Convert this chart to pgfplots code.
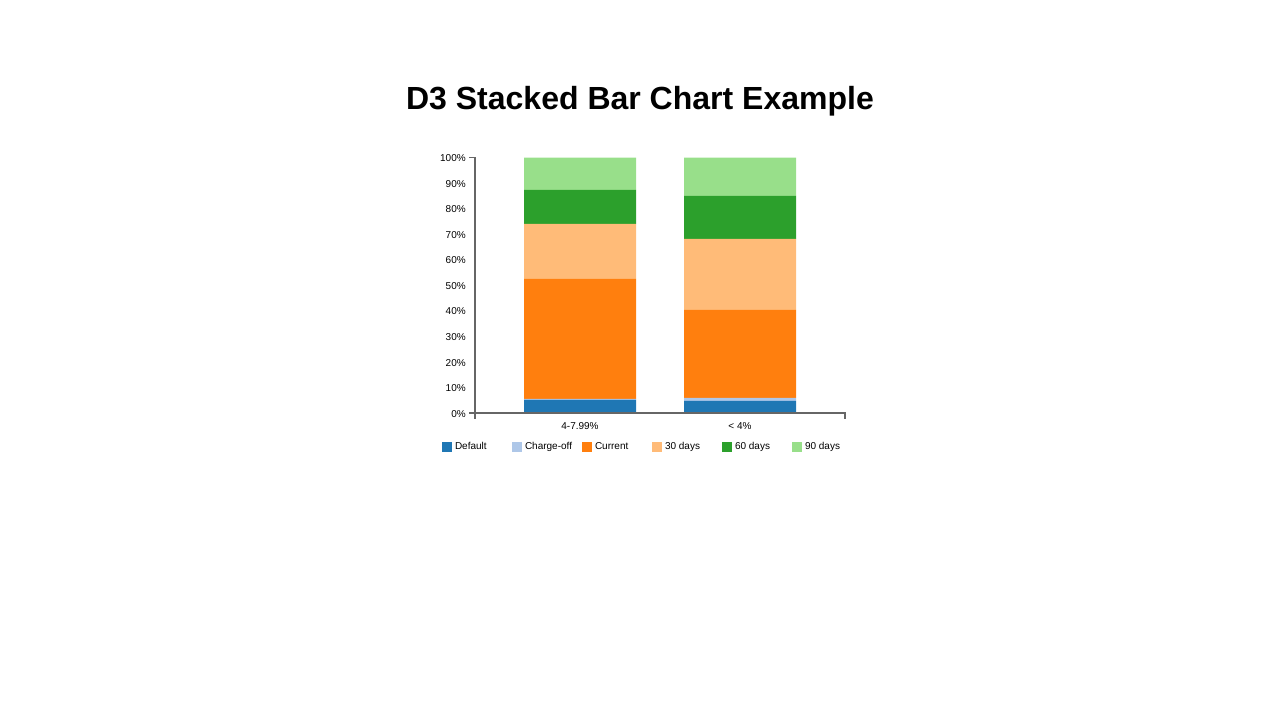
\documentclass[border=0pt]{standalone}
\usepackage{fontspec}
\setmainfont{Liberation Sans}
\usepackage{pgfplots}
\pgfplotsset{compat=1.18}
\definecolor{cDefault}{HTML}{1F77B4}
\definecolor{cCharge}{HTML}{AEC7E8}
\definecolor{cCurrent}{HTML}{FF7F0E}
\definecolor{cThirty}{HTML}{FFBB78}
\definecolor{cSixty}{HTML}{2CA02C}
\definecolor{cNinety}{HTML}{98DF8A}
\definecolor{axisgray}{HTML}{666666}
\pgfplotsset{sq/.style={legend image code/.code={\fill[##1,draw=none] (0pt,-3.75pt) rectangle (7.5pt,3.75pt);}}}
\newcommand{\legtext}[1]{\makebox[42.75pt][l]{#1}}
\begin{document}
\begin{tikzpicture}
\path[use as bounding box] (0,0) rectangle (960pt,540pt);
\node[anchor=base, font=\fontsize{24pt}{28pt}\selectfont\bfseries, inner sep=0pt] at (480pt,457.875pt) {D3 Stacked Bar Chart Example};
\begin{axis}[
  name=ax,
  at={(356.25pt,230.25pt)}, anchor=south west,
  width=277.5pt, height=191.5pt, scale only axis,
  ybar stacked, bar width=84pt,
  xmin=-0.65625, xmax=1.65625, ymin=0, ymax=100,
  axis x line*=bottom, axis y line*=left,
  axis line style={draw=none},
  major tick length=0pt,
  xtick={0,1}, xticklabels={4-7.99\%, < 4\%},
  ytick={0,10,...,100},
  yticklabel={\pgfmathprintnumber{\tick}\%},
  /pgf/number format/assume math mode=true,
  tick label style={font=\fontsize{7.5pt}{9pt}\selectfont, inner sep=0pt},
  y tick label style={anchor=base east, xshift=-6.75pt, yshift=-3.1pt},
  x tick label style={anchor=base, yshift=-12.75pt},
  every axis plot post/.append style={sq},
  legend columns=6,
  legend style={draw=none, fill=none, inner sep=0pt, outer sep=0pt,
    at={(-0.089189,-0.1318)}, anchor=west,
    nodes={inner sep=0pt, text height=6.2pt, text depth=1.4pt, font=\fontsize{7.5pt}{9pt}\selectfont},
    /tikz/every odd column/.append style={column sep=2.25pt},
    /tikz/every even column/.append style={column sep=0pt}},
  clip=false,
]
\addplot[fill=cDefault, draw=none] coordinates {(0,5.1) (1,4.7)};
\addplot[fill=cCharge, draw=none] coordinates {(0,0.4) (1,1.2)};
\addplot[fill=cCurrent, draw=none] coordinates {(0,47.0) (1,34.5)};
\addplot[fill=cThirty, draw=none] coordinates {(0,21.6) (1,27.8)};
\addplot[fill=cSixty, draw=none] coordinates {(0,13.3) (1,16.8)};
\addplot[fill=cNinety, draw=none] coordinates {(0,12.6) (1,15.0)};
\legend{\legtext{Default},\legtext{Charge-off},\legtext{Current},\legtext{30 days},\legtext{60 days},\legtext{90 days}}
\end{axis}
\draw[axisgray, line width=0.9pt] (ax.north west) ++(-4.5pt,0) -- (ax.north west) -- (ax.south west) -- ++(-4.5pt,0);
\draw[axisgray, line width=0.9pt] (ax.south west) ++(0,-4.5pt) -- (ax.south west) -- (ax.south east) -- ++(0,-4.5pt);
\end{tikzpicture}
\end{document}
